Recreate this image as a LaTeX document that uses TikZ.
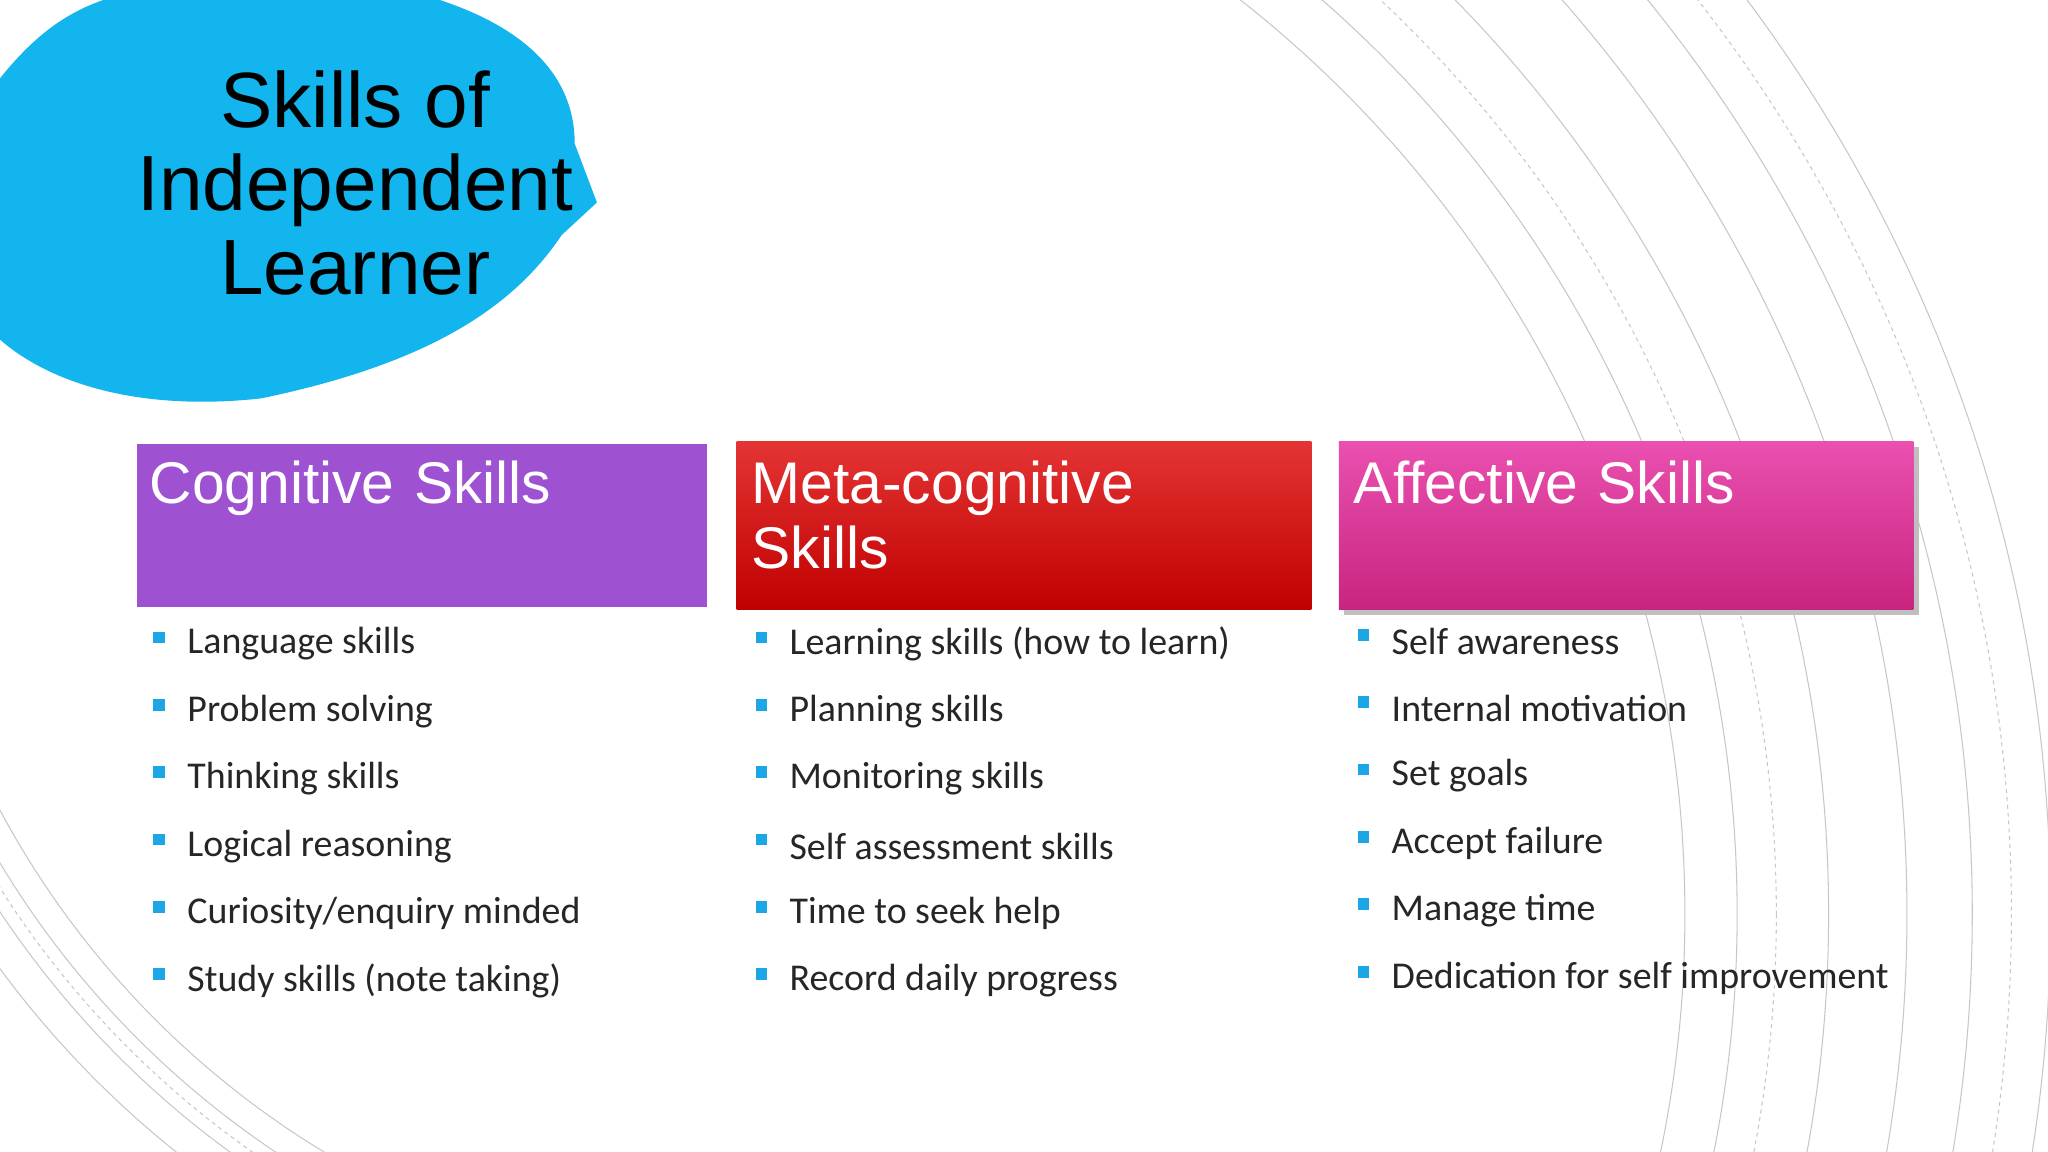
\documentclass[tikz,border=0pt]{standalone}
\usepackage{fontspec}
\setmainfont{Liberation Sans}
\newfontfamily\bodyfont{Carlito}
\definecolor{blob}{RGB}{18,181,238}
\definecolor{bulc}{RGB}{27,166,230}
\begin{document}
\begin{tikzpicture}[x=1pt,y=-1pt,
  hdr/.style={anchor=north west,text=white,font=\fontsize{45}{54}\selectfont,align=left,text width=420},
  itm/.style={anchor=west,font=\bodyfont\fontsize{29}{32}\selectfont,text=black!85},
  bul/.style={fill=bulc,minimum size=9,inner sep=0},
  arc/.style={draw=black!22,line width=0.8}]
\useasboundingbox (0,0) rectangle (1568,882);
\fill[white] (0,0) rectangle (1568,882);
\begin{scope}
\clip (700,0) rectangle (1568,882);
\foreach \r in {890,930,1000,1060,1110,1170} \draw[arc] (400,700) circle (\r);
\foreach \r in {960,1140} \draw[arc,dashed] (400,700) circle (\r);
\end{scope}
\begin{scope}
\clip (0,600) rectangle (320,882);
\foreach \r in {680,700,720,745} \draw[arc] (600,300) circle (\r);
\draw[arc,dashed] (600,300) circle (710);
\end{scope}
% blob
\fill[blob] (0,60) .. controls (40,10) and (80,-10) .. (150,-10)
  -- (300,-10) .. controls (390,10) and (440,50) .. (440,110)
  -- (457,155) -- (430,180) .. controls (390,240) and (320,280) .. (200,305)
  .. controls (110,315) and (40,295) .. (0,260) -- cycle;
\node[align=center,font=\fontsize{60}{66}\selectfont,inner sep=0] (title) at (272,140) {Skills of\\[-2pt]Independent\\[-2pt]Learner};
% boxes
\fill[black!25] (1029,342) rectangle (1469,471);
\fill[color={rgb,255:red,158;green,82;blue,210}] (105,340) rectangle (541,465);
\shade[top color={rgb,255:red,228;green,52;blue,52},bottom color={rgb,255:red,192;green,0;blue,0}] (564,338) rectangle (1004,467);
\shade[top color={rgb,255:red,234;green,80;blue,176},bottom color={rgb,255:red,200;green,36;blue,127}] (1025,338) rectangle (1465,467);
\node[hdr] (h1) at (111,349) {Cognitive Skills};
\node[hdr] (h2) at (572,349) {Meta-cognitive\\[-4pt]Skills};
\node[hdr] (h3) at (1033,349) {Affective Skills};
\foreach \t [count=\i] in {Language skills,Problem solving,Thinking skills,Logical reasoning,Curiosity/enquiry minded,Study skills (note taking)}{
  \node[bul] (a\i b) at (122,{491+51.6*(\i-1)-3}) {};
  \node[itm] (a\i) at (140,{493+51.6*(\i-1)}) {\t};}
\foreach \t [count=\i] in {Learning skills (how to learn),Planning skills,Monitoring skills,Self assessment skills,Time to seek help,Record daily progress}{
  \node[bul] (b\i b) at (583,{491+51.6*(\i-1)-3}) {};
  \node[itm] (b\i) at (601,{493+51.6*(\i-1)}) {\t};}
\foreach \t [count=\i] in {Self awareness,Internal motivation,Set goals,Accept failure,Manage time,Dedication for self improvement}{
  \node[bul] (c\i b) at (1044,{489+51.6*(\i-1)-3}) {};
  \node[itm] (c\i) at (1062,{491+51.6*(\i-1)}) {\t};}
\end{tikzpicture}
\end{document}
